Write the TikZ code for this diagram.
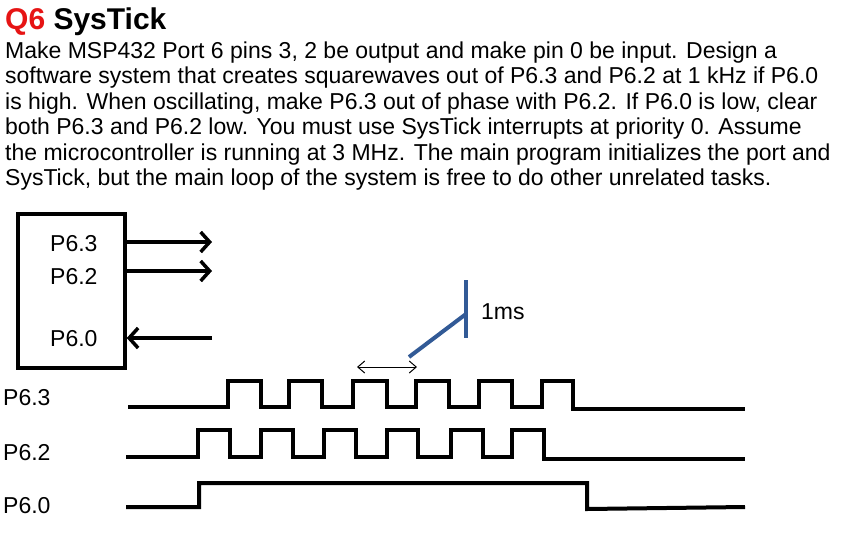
\documentclass[tikz,border=0pt]{standalone}
\usepackage{fontspec}
\setmainfont{Liberation Sans}
\usetikzlibrary{arrows.meta}
\definecolor{qred}{RGB}{230,20,20}
\definecolor{mblue}{RGB}{50,90,150}
\begin{document}
\begin{tikzpicture}[x=1pt,y=-1pt,
  para/.style={anchor=base west,inner sep=0,font=\fontsize{23}{25}\selectfont},
  lab/.style={anchor=west,inner sep=0,font=\fontsize{23}{25}\selectfont},
  wave/.style={line width=4pt,line join=miter},
  sig/.style={line width=3.5pt,-{Straight Barb[length=9pt,width=20pt,line width=3.5pt]}}]
\useasboundingbox (0,0) rectangle (843,536);
\node[anchor=base west,inner sep=0,font=\fontsize{30}{32}\selectfont\bfseries] (title) at (5,29) {\textcolor{qred}{Q6} SysTick};
\node[para] (l1) at (5,58) {Make MSP432 Port 6 pins 3, 2 be output and make pin 0 be input. Design a};
\node[para] (l2) at (5,83.5) {software system that creates squarewaves out of P6.3 and P6.2 at 1 kHz if P6.0};
\node[para] (l3) at (5,109) {is high. When oscillating, make P6.3 out of phase with P6.2. If P6.0 is low, clear};
\node[para] (l4) at (5,134.5) {both P6.3 and P6.2 low. You must use SysTick interrupts at priority 0. Assume};
\node[para] (l5) at (5,160) {the microcontroller is running at 3 MHz. The main program initializes the port and};
\node[para] (l6) at (5,185.5) {SysTick, but the main loop of the system is free to do other unrelated tasks.};
% box
\node[draw,line width=3.5pt,minimum width=107pt,minimum height=154pt,inner sep=0] (box) at (71.5,291) {};
\node[lab] (b3) at (50,244) {P6.3};
\node[lab] (b2) at (50,277) {P6.2};
\node[lab] (b0) at (50,339) {P6.0};
\coordinate (e3) at (212,242);
\coordinate (e2) at (212,271);
\coordinate (e0) at (212,338);
\draw[sig] (box.east |- e3) -- (e3);
\draw[sig] (box.east |- e2) -- (e2);
\draw[sig] (e0) -- (box.east |- e0);
% left labels
\node[lab] (w3) at (3,398) {P6.3};
\node[lab] (w2) at (3,453) {P6.2};
\node[lab] (w0) at (3,506) {P6.0};
% waves
\draw[wave] (128,407) -- (228,407) -- (228,381) -- (261,381) -- (261,407) -- (289,407) -- (289,381) -- (322,381) -- (322,407)
 -- (353,407) -- (353,381) -- (387,381) -- (387,407) -- (416,407) -- (416,381) -- (449,381) -- (449,407)
 -- (479,407) -- (479,381) -- (512,381) -- (512,407) -- (542,407) -- (542,381) -- (573,381) -- (573,409) -- (745,409);
\draw[wave] (126,457) -- (198,457) -- (198,430) -- (230,430) -- (230,457) -- (261,457) -- (261,430) -- (293,430) -- (293,457)
 -- (324,457) -- (324,430) -- (356,430) -- (356,457) -- (387,457) -- (387,430) -- (418,430) -- (418,457)
 -- (451,457) -- (451,430) -- (483,430) -- (483,457) -- (512,457) -- (512,430) -- (544,430) -- (544,459) -- (745,459);
\draw[wave] (126,507) -- (199,507) -- (199,483) -- (587,483) -- (587,509) -- (745,507);
% 1ms marker
\coordinate (pa) at (357,367);
\coordinate (pb) at (417,367);
\draw[line width=1pt,{Straight Barb[length=7pt,width=12pt]}-{Straight Barb[length=7pt,width=12pt]}] (pa) -- (pb);
\coordinate (bl0) at (409,357);
\coordinate (bl1) at (466,314);
\coordinate (bt) at (466,280);
\coordinate (bb) at (466,338);
\draw[mblue,line width=4pt] (bl0) -- (bl1);
\draw[mblue,line width=3.5pt] (bt) -- (bb);
\node[lab] (ms) at (481,312) {1ms};
\end{tikzpicture}
\end{document}
